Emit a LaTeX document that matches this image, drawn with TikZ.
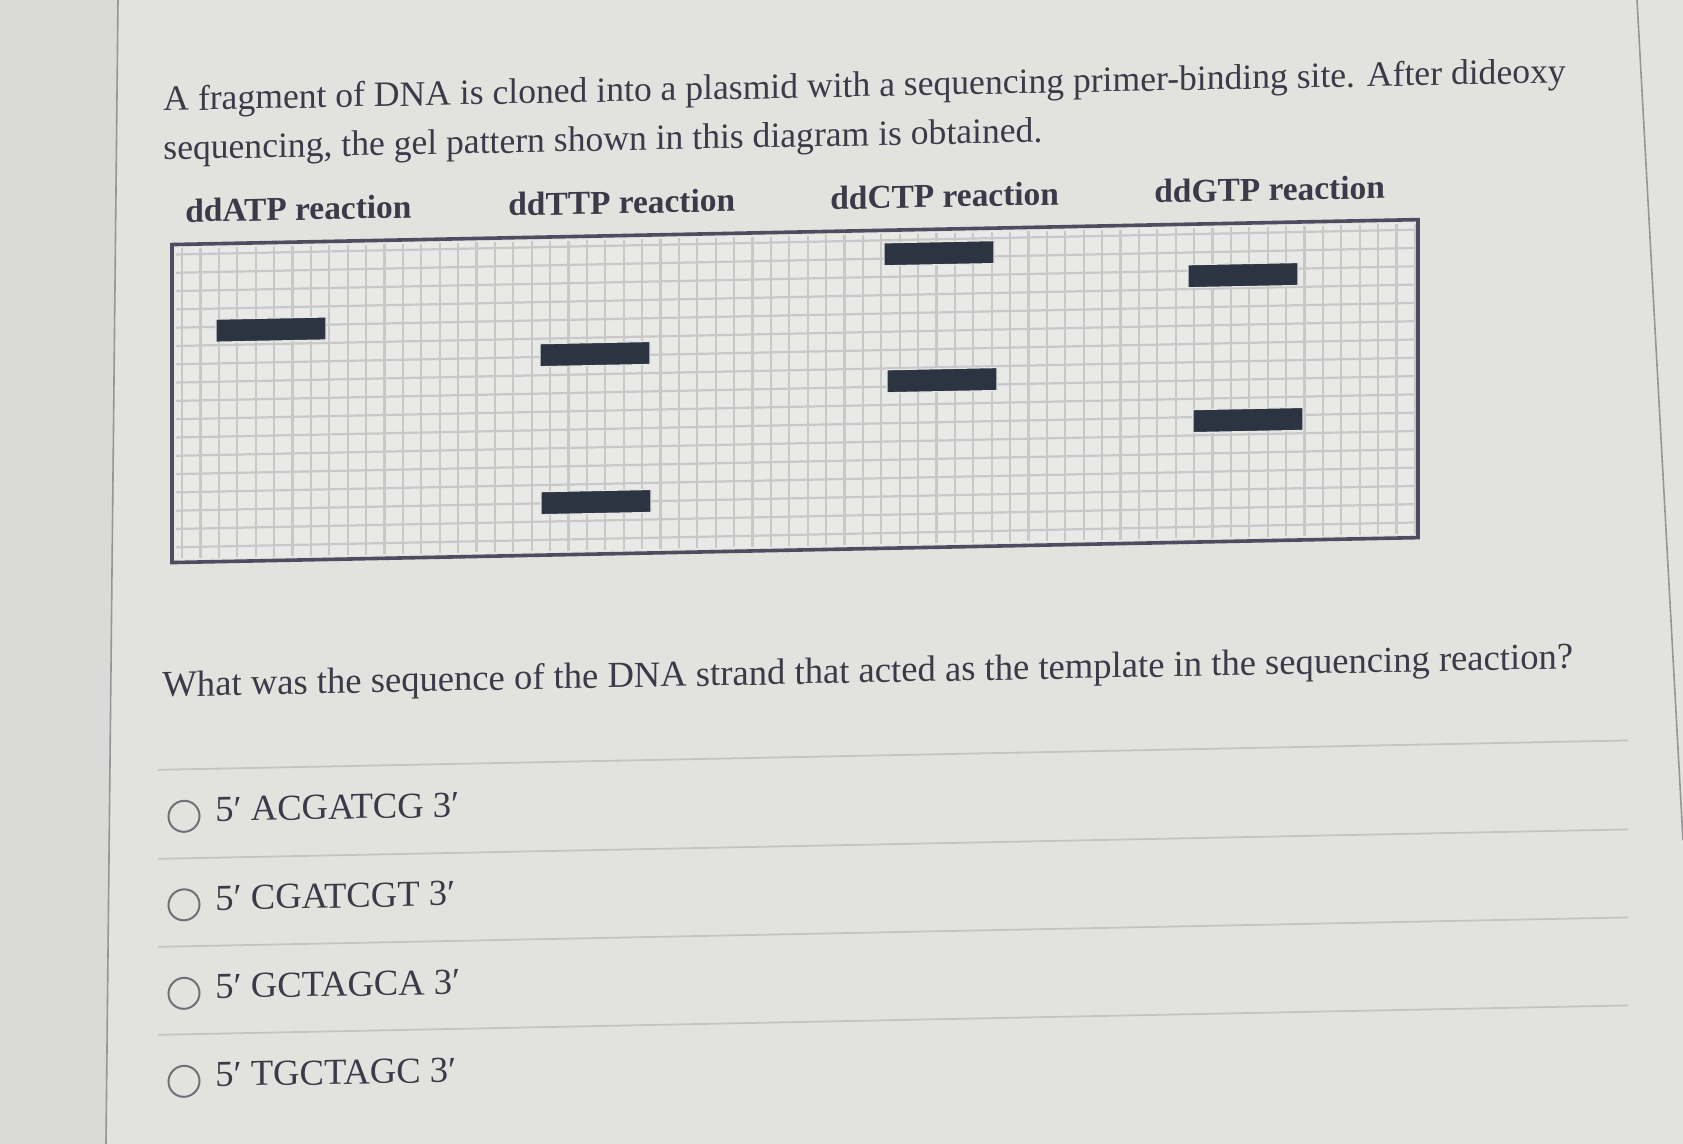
\documentclass[tikz,border=0pt]{standalone}
\usepackage{fontspec}
\setmainfont{Liberation Serif}
\definecolor{bgcol}{RGB}{226,226,223}
\definecolor{leftcol}{RGB}{218,218,216}
\definecolor{edgecol}{RGB}{150,150,152}
\definecolor{txtcol}{RGB}{58,58,72}
\definecolor{gelbg}{RGB}{233,233,231}
\definecolor{gridcol}{RGB}{200,200,200}
\definecolor{framecol}{RGB}{78,76,94}
\definecolor{bandcol}{RGB}{44,52,65}
\definecolor{sepcol}{RGB}{196,196,196}
\definecolor{radiocol}{RGB}{112,112,120}
\begin{document}
\begin{tikzpicture}[x=0.5pt,y=-0.5pt,
  body/.style={font=\fontsize{17.8}{21}\selectfont, text=txtcol, inner sep=0pt, anchor=base west, transform shape},
  qtext/.style={font=\fontsize{18.3}{22}\selectfont, text=txtcol, inner sep=0pt, anchor=base west, transform shape},
  lanelabel/.style={font=\bfseries\fontsize{16.7}{20}\selectfont, text=txtcol, inner sep=0pt, anchor=base west, transform shape},
  band/.style={rectangle, fill=bandcol, draw=white!80!gray, line width=0.6pt, minimum width=55pt, minimum height=11.5pt, inner sep=0pt, transform shape},
  radio/.style={circle, draw=radiocol, line width=1pt, minimum size=15.5pt, inner sep=0pt, transform shape},
  gridline/.style={draw=gridcol, line width=1.1pt},
  sepline/.style={draw=sepcol, line width=0.9pt},
  edgeline/.style={draw=edgecol, line width=0.8pt}]
\useasboundingbox (0,0) rectangle (1683,1144);
\fill[bgcol] (0,0) rectangle (1683,1144);
\fill[leftcol] (0,0) -- (118,0) -- (106,1144) -- (0,1144) -- cycle;
\draw[edgeline] (118,0) -- (106,1144);
\draw[edgeline] (1637,0) -- (1683,840);
\begin{scope}[cm={1,0.02,0,1,(0,0)}]
  % question text
  \node[body] (l1) at (163,114) {A fragment of DNA is cloned into a plasmid with a sequencing primer-binding site. After dideoxy};
  \node[body] (l2) at (163,163) {sequencing, the gel pattern shown in this diagram is obtained.};
  % lane labels
  \node[lanelabel] (labA) at (185,226) {ddATP reaction};
  \node[lanelabel] (labT) at (508,226) {ddTTP reaction};
  \node[lanelabel] (labC) at (830,226) {ddCTP reaction};
  \node[lanelabel] (labG) at (1154,226) {ddGTP reaction};
  % gel
  \fill[gelbg] (175,251) rectangle (1415,563);
  \foreach \i in {0,...,67} \draw[gridline] ({182+18.4*\i},252) -- ({182+18.4*\i},562);
  \foreach \j in {0,...,16} \draw[gridline] (176,{258+18.3*\j}) -- (1414,{258+18.3*\j});
  \draw[draw=framecol, line width=1.8pt] (172,248) rectangle (1418,566);
  % bands
  \node[band] (bA)  at (271,335) {};
  \node[band] (bT1) at (595,366) {};
  \node[band] (bT2) at (596,514) {};
  \node[band] (bC1) at (939,272) {};
  \node[band] (bC2) at (942,399) {};
  \node[band] (bG1) at (1243,300) {};
  \node[band] (bG2) at (1248,445) {};
  % question
  \node[qtext] (q) at (162,700) {What was the sequence of the DNA strand that acted as the template in the sequencing reaction?};
  % separators
  \draw[sepline] (158,773) -- (1628,773);
  \draw[sepline] (158,862) -- (1628,862);
  \draw[sepline] (158,950) -- (1628,950);
  \draw[sepline] (158,1038) -- (1628,1038);
  % options
  \node[radio] (r1) at (184,820) {};
  \node[radio] (r2) at (184,908.5) {};
  \node[radio] (r3) at (184,997) {};
  \node[radio] (r4) at (184,1085) {};
  \node[qtext] (o1) at (215,826) {5′ ACGATCG 3′};
  \node[qtext] (o2) at (215,914.5) {5′ CGATCGT 3′};
  \node[qtext] (o3) at (215,1003) {5′ GCTAGCA 3′};
  \node[qtext] (o4) at (215,1091) {5′ TGCTAGC 3′};
\end{scope}
\end{tikzpicture}
\end{document}
